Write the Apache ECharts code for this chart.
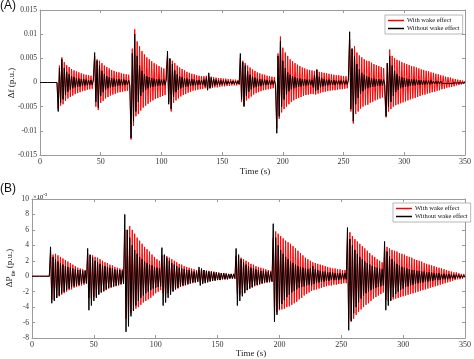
<!DOCTYPE html>
<html><head><meta charset="utf-8">
<script src="https://cdn.jsdelivr.net/npm/echarts@6/dist/echarts.min.js"></script>
<style>html,body{margin:0;padding:0;background:#fff}#c{width:474px;height:359px}</style>
</head><body><div id="c"></div>
<script>
// sample spacing in seconds
const timeStep = 1;
const seriesNames = ['With wake effect', 'Without wake effect'];
// Panel A: Δf in units of 1e-4 p.u.
const redA = [
0,0,0,0,0,0,0,0,0,0,0,0,0,0,0,
-55,35,-48,52,-45,42,-38,36,-33,32,-30,28,-27,25,-24,23,-22,21,-20,19,-18,17,-17,16,-15,15,-14,14,-13,13,
55,-50,48,-57,45,-42,40,-38,35,-33,32,-30,29,-27,26,-25,24,-23,22,-21,21,-20,19,-19,18,-18,17,-17,16,-16,
-118,70,-90,110,-70,85,-65,75,-58,65,-52,58,-48,52,-44,48,-40,44,-37,40,-34,37,-32,34,-30,31,-28,29,-26,27,
55,-40,48,-60,45,-42,40,-37,35,-33,31,-29,28,-26,25,-24,22,-21,20,-19,18,-17,17,-16,15,-15,14,-14,13,-13,
13,-12,14,-15,13,-12,12,-11,11,-10,10,-10,9,-9,9,-8,8,-8,8,-7,7,-7,7,-6,6,-6,6,-6,5,-5,
50,-40,45,-48,40,-37,35,-33,31,-29,27,-25,24,-22,21,-20,19,-18,17,-16,16,-15,14,-14,13,-13,12,-12,11,-11,
-95,60,-75,95,-62,72,-55,62,-50,55,-45,48,-40,44,-37,40,-34,37,-32,34,-30,31,-28,29,-26,27,-25,26,-24,25,
-24,24,-25,26,-23,22,-21,21,-20,20,-19,19,-18,18,-17,17,-16,16,-16,15,-15,15,-14,14,-14,13,-13,13,-12,12,
90,-60,70,-85,75,-65,62,-60,56,-54,52,-50,48,-47,45,-46,44,-42,41,-40,38,-37,36,-35,34,-33,32,-31,30,-30,
-72,40,-60,68,-55,55,-50,50,-47,47,-45,45,-43,42,-41,40,-39,38,-37,36,-35,34,-33,33,-32,31,-30,29,-28,27,
-26,26,-25,24,-23,23,-22,21,-20,20,-19,18,-17,17,-16,15,-14,14,-13,12,-11,11,-10,10,-9,8,-8,7,-6,6,-5,5,-4,4,-3,3
];
const blackA = [
0,0,0,0,0,0,0,0,0,0,0,0,0,0,0,
-60,30,-42,48,-35,30,-26,22,-19,17,-15,13,-12,11,-10,9,-9,8,-8,7,-7,7,-6,6,-6,5,-5,5,-5,5,
62,-40,45,-52,35,-28,24,-20,17,-15,13,-12,11,-10,9,-9,8,-8,7,-7,7,-6,6,-6,6,-5,5,-5,5,-5,
-115,60,-80,100,-60,55,-40,35,-28,24,-20,17,-15,13,-12,11,-10,9,-9,8,-8,7,-7,7,-6,6,-6,6,-5,5,
65,-45,50,-55,38,-30,25,-20,17,-15,13,-12,11,-10,9,-9,8,-8,7,-7,7,-6,6,-6,5,-5,5,-5,5,-5,
6,-8,10,-16,20,-12,10,-8,7,-6,6,-5,5,-5,4,-4,4,-4,4,-4,3,-3,3,-3,3,-3,3,-3,3,-3,
60,-35,42,-50,35,-28,23,-19,16,-14,12,-11,10,-9,8,-8,7,-7,6,-6,6,-5,5,-5,5,-5,4,-4,4,-4,
-105,55,-70,85,-50,45,-35,30,-25,21,-18,16,-14,13,-12,11,-10,9,-9,8,-8,7,-7,7,-6,6,-6,6,-5,5,
-10,15,-18,27,-15,12,-10,9,-8,7,-7,6,-6,6,-5,5,-5,5,-5,4,-4,4,-4,4,-4,4,-4,4,-4,4,
105,-55,70,-80,55,-45,38,-32,27,-23,20,-18,16,-14,13,-12,11,-10,9,-9,8,-8,7,-7,7,-6,6,-6,6,-5,
-70,40,-50,55,-40,35,-28,24,-20,17,-15,13,-12,11,-10,9,-9,8,-8,7,-7,7,-6,6,-6,6,-5,5,-5,5,
-5,4,-4,4,-4,4,-4,4,-3,3,-3,3,-3,3,-3,3,-2,2,-2,2,-2,2,-2,2,-2,2,-1,1,-1,1,-1,1,-1,1,-1,1
];
// Panel B: ΔP_tie in units of 1e-4 p.u. (axis shows ×10^-3)
const redB = [
0,0,0,0,0,0,0,0,0,0,0,0,0,0,0,
30,-30,28,-30,29,-28,27,-26,25,-24,23,-22,21,-20,19,-18,17,-17,15,-15,13,-14,11,-13,10,-12,9,-11,8,-10,
30,-28,27,-29,27,-27,25,-25,24,-23,22,-21,20,-20,18,-18,17,-16,15,-15,14,-14,12,-13,11,-12,10,-11,9,-10,
60,-55,60,-48,65,-48,60,-45,55,-42,50,-40,46,-37,42,-34,38,-32,35,-30,32,-28,28,-25,25,-22,22,-20,20,-18,
27,-22,27,-24,26,-22,24,-21,22,-19,20,-17,18,-16,16,-14,15,-13,13,-12,12,-11,11,-10,10,-9,9,-8,8,-7,
8,-8,9,-8,8,-7,7,-7,7,-6,6,-6,6,-5,5,-5,5,-5,4,-4,4,-4,4,-4,3,-3,3,-3,3,-3,
26,-22,26,-24,24,-22,22,-20,20,-18,18,-16,16,-15,15,-13,13,-12,12,-11,11,-10,10,-9,9,-8,8,-8,7,-7,
50,-45,58,-46,55,-44,52,-43,49,-42,46,-40,44,-39,42,-37,39,-35,36,-33,33,-30,30,-28,27,-25,24,-23,22,-21,
20,-19,18,-18,17,-17,16,-16,15,-15,14,-14,13,-13,12,-12,11,-12,10,-11,10,-11,9,-10,9,-10,8,-9,8,-9,
50,-55,57,-59,52,-55,48,-50,45,-46,42,-43,39,-40,36,-37,33,-35,30,-32,27,-29,25,-27,22,-25,20,-23,18,-21,
35,-31,38,-32,36,-31,34,-30,33,-29,32,-28,30,-27,29,-26,28,-25,26,-24,25,-23,24,-22,22,-21,21,-20,20,-19,
19,-18,17,-17,16,-16,15,-15,14,-14,13,-13,12,-12,11,-11,10,-10,9,-9,8,-8,7,-7,6,-6,5,-5,5,-4,4,-4,3,-3,3,-2
];
const blackB = [
0,0,0,0,0,0,0,0,0,0,0,0,0,0,0,
38,-35,25,-32,22,-28,19,-25,17,-22,15,-20,13,-18,12,-16,11,-14,10,-13,9,-12,8,-11,8,-10,7,-9,7,-9,
36,-44,28,-38,24,-32,20,-28,18,-24,16,-21,14,-19,13,-17,12,-15,11,-14,10,-13,9,-12,8,-11,8,-10,7,-10,
80,-72,60,-65,50,-52,40,-45,34,-38,29,-32,25,-28,22,-25,19,-22,17,-20,15,-18,14,-16,12,-15,11,-14,10,-13,
37,-38,28,-34,24,-28,20,-24,17,-20,15,-17,13,-15,11,-13,10,-12,9,-11,8,-10,8,-9,7,-8,6,-8,6,-7,
12,-12,10,-10,8,-9,7,-8,6,-7,6,-6,5,-6,5,-5,4,-5,4,-4,4,-4,3,-4,3,-3,3,-3,3,-3,
36,-38,28,-32,22,-26,18,-22,15,-18,13,-16,11,-14,10,-12,9,-11,8,-10,7,-9,7,-8,6,-8,6,-7,5,-7,
68,-59,50,-50,40,-42,34,-36,29,-31,25,-27,22,-24,19,-21,17,-19,15,-17,13,-15,12,-14,11,-13,10,-12,9,-11,
10,-12,13,-10,9,-9,8,-8,7,-7,6,-7,6,-6,5,-6,5,-5,5,-5,4,-5,4,-5,4,-4,4,-4,4,-4,
63,-70,48,-58,40,-48,34,-40,29,-34,25,-29,22,-25,19,-22,17,-20,15,-18,13,-16,12,-15,11,-14,10,-13,9,-12,
45,-44,32,-38,26,-32,22,-27,19,-23,16,-20,14,-18,12,-16,11,-14,10,-13,9,-12,8,-11,8,-10,7,-9,7,-9,
6,-8,6,-7,5,-7,5,-6,5,-6,4,-5,4,-5,4,-5,3,-4,3,-4,3,-4,3,-3,2,-3,2,-3,2,-2,2,-2,1,-2,1,-1
];
const xTickLabels = ['0','50','100','150','200','250','300','350'];

const serif = 'Liberation Serif, Times New Roman, serif';
const pts = arr => arr.map((v, i) => [i * timeStep, v]);

function xAxes(g) {
  const base = {gridIndex: g, type: 'value', min: 0, max: 350, interval: 50,
    splitLine: {show: false},
    axisLine: {show: true, onZero: false, lineStyle: {color: '#9a9a9a', width: 1}},
    axisTick: {show: true, inside: true, length: 3, lineStyle: {color: '#9a9a9a'}}};
  return [
    Object.assign({}, base, {position: 'bottom',
      axisLabel: {show: true, margin: 3, fontSize: 8, fontFamily: serif, color: '#333',
        formatter: v => xTickLabels[Math.round(v / 50)]}}),
    Object.assign({}, base, {position: 'top', axisLabel: {show: false}})
  ];
}
function yAxes(g, min, max, interval, fmt) {
  const base = {gridIndex: g, type: 'value', min: min, max: max, interval: interval,
    splitLine: {show: false},
    axisLine: {show: true, onZero: false, lineStyle: {color: '#9a9a9a', width: 1}},
    axisTick: {show: true, inside: true, length: 3, lineStyle: {color: '#9a9a9a'}}};
  return [
    Object.assign({}, base, {position: 'left',
      axisLabel: {show: true, margin: 3, fontSize: 7.5, fontFamily: serif, color: '#333', formatter: fmt}}),
    Object.assign({}, base, {position: 'right', axisLabel: {show: false}})
  ];
}
function legend(left, top) {
  return {left: left, top: top, orient: 'vertical', itemGap: 1, itemWidth: 16, itemHeight: 1.5,
    icon: 'rect',
    padding: [2, 3, 2, 3], backgroundColor: '#fff', borderColor: '#888', borderWidth: 0.6,
    textStyle: {fontSize: 6.5, fontFamily: serif, color: '#111', padding: [0, 0, 0, -2]},
    data: seriesNames};
}
function line(name, data, xi, yi, color, z) {
  return {name: name, type: 'line', data: data, xAxisIndex: xi, yAxisIndex: yi,
    showSymbol: false, symbol: 'none', sampling: null, z: z,
    lineStyle: {color: color, width: 1}, itemStyle: {color: color}};
}

const chart = echarts.init(document.getElementById('c'), null, {renderer: 'canvas'});
const graphics = [
  {type: 'text', left: 0, top: 0, style: {text: '(A)', fontSize: 12, fontFamily: 'Liberation Sans, Arial, sans-serif', fill: '#111'}},
  {type: 'text', left: 0, top: 183, style: {text: '(B)', fontSize: 12, fontFamily: 'Liberation Sans, Arial, sans-serif', fill: '#111'}},
  {type: 'text', x: 255, y: 172, style: {text: 'Time (s)', fontSize: 9, fontFamily: serif, fill: '#222', align: 'center', verticalAlign: 'middle'}},
  {type: 'text', x: 251, y: 354, style: {text: 'Time (s)', fontSize: 9, fontFamily: serif, fill: '#222', align: 'center', verticalAlign: 'middle'}},
  {type: 'text', x: 12, y: 83, rotation: Math.PI / 2, style: {text: 'Δf (p.u.)', fontSize: 9, fontFamily: serif, fill: '#222', align: 'center', verticalAlign: 'middle'}},
  {type: 'text', x: 10, y: 268, rotation: Math.PI / 2, style: {text: '{a|ΔP}{s|tie}{a| (p.u.)}', align: 'center', verticalAlign: 'middle',
    rich: {a: {fontSize: 9, fontFamily: serif, fill: '#222', color: '#222'}, s: {fontSize: 6, fontFamily: serif, color: '#222', padding: [6, 0, 0, 0]}}}},
  {type: 'text', left: 33, top: 192, style: {text: '{a|×10}{s|-3}', rich: {a: {fontSize: 6.5, fontFamily: serif, color: '#333'}, s: {fontSize: 5, fontFamily: serif, color: '#333', padding: [0, 0, 5, 0]}}}}
];
const lengthsOk = [redA, blackA, redB, blackB].every(a => a.length === 351);
if (!lengthsOk) graphics.push({type: 'text', left: 150, top: 100, style: {text: 'LEN ' + [redA, blackA, redB, blackB].map(a => a.length).join(','), fontSize: 14, fill: 'blue'}});

chart.setOption({
  animation: false,
  backgroundColor: '#fff',
  grid: [
    {left: 40, top: 10, width: 428, height: 145},
    {left: 32, top: 199, width: 436, height: 139}
  ],
  xAxis: [...xAxes(0), ...xAxes(1)],
  yAxis: [
    ...yAxes(0, -150, 150, 50, v => String(v / 10000)),
    ...yAxes(1, -80, 100, 20, v => String(v / 10))
  ],
  legend: [legend(385, 15), legend(393, 203)],
  series: [
    line(seriesNames[0], pts(redA), 0, 0, '#ff0000', 2),
    line(seriesNames[1], pts(blackA), 0, 0, '#000000', 3),
    line(seriesNames[0], pts(redB), 2, 2, '#ff0000', 2),
    line(seriesNames[1], pts(blackB), 2, 2, '#000000', 3)
  ],
  graphic: graphics
});
</script></body></html>
